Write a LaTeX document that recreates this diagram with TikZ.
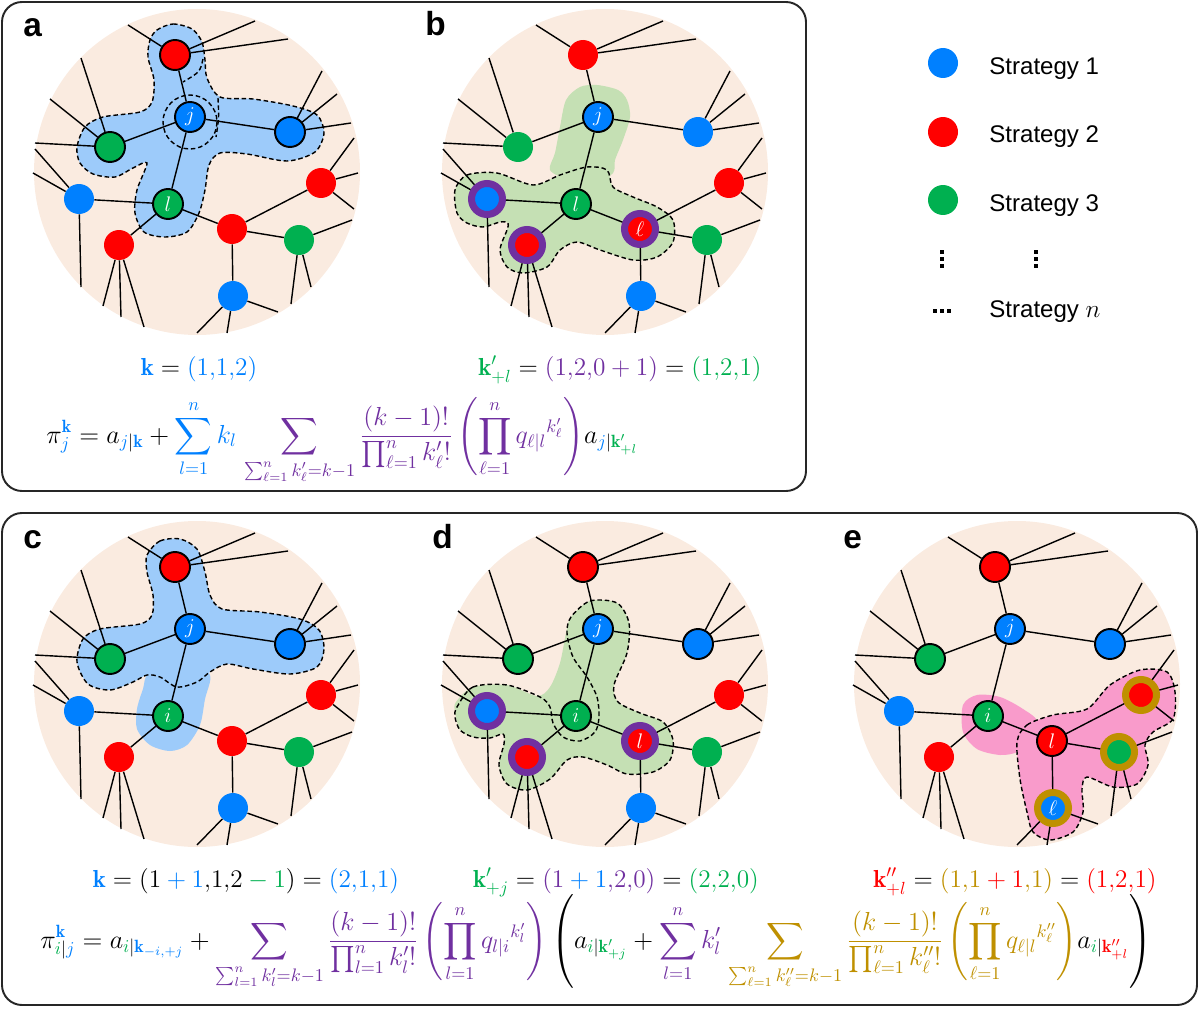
\documentclass[tikz,border=0pt]{standalone}
\usepackage{amsmath}
\usepackage{fontspec}
\newfontfamily\sansfont{Liberation Sans}
\definecolor{nblue}{HTML}{0080FF}
\definecolor{nred}{HTML}{FF0000}
\definecolor{ngreen}{HTML}{00B050}
\definecolor{npurple}{HTML}{7030A0}
\definecolor{ngold}{HTML}{BF9000}
\definecolor{cpeach}{HTML}{FAEBE0}
\definecolor{regblue}{HTML}{9DCBFA}
\definecolor{reggreen}{HTML}{C5E0B4}
\definecolor{regpink}{HTML}{F99BCB}
\tikzset{
  dot/.style={circle, inner sep=0pt, minimum size=0.6cm},
  bord/.style={draw=black, line width=1.1pt},
  ring/.style={draw=#1, line width=0.14cm, minimum size=0.62cm},
  lbl/.style={text=white, font=\fontsize{13}{13}\selectfont, inner sep=0pt},
  edge/.style={line width=0.8pt},
  dashline/.style={line width=0.8pt, dash pattern=on 2.6pt off 1.6pt},
  eq/.style={inner sep=0pt, font=\fontsize{14}{17}\selectfont},
  bigeq/.style={eq, scale=1.03, transform shape},
  letter/.style={inner sep=0pt, anchor=base west, font=\sansfont\bfseries\fontsize{19}{19}\selectfont},
  lgtext/.style={inner sep=0pt, anchor=base west, font=\sansfont\fontsize{13.7}{16}\selectfont},
  box/.style={draw=black!85, line width=1.1pt, rounded corners=0.4cm},
  % node looks, set again in each panel
  jst/.style={bord, label={[lbl]center:$j$}},
  rtst/.style={bord}, glst/.style={bord}, brst/.style={bord},
  lst/.style={bord, label={[lbl]center:$i$}},
  blst/.style={}, rblst/.style={}, rmst/.style={},
  rrst/.style={}, grst/.style={}, bbst/.style={}
}
% one network, #1 = name prefix
\newcommand\drawnet[1]{%
  \node[dot, fill=nblue, jst] (#1-j) at (190,117) {};
  \node[dot, fill=nred, rtst] (#1-rt) at (175,55) {};
  \node[dot, fill=nblue, brst] (#1-br) at (290,132) {};
  \node[dot, fill=ngreen, glst] (#1-gl) at (110,147) {};
  \node[dot, fill=ngreen, lst] (#1-l) at (168,204) {};
  \node[dot, fill=nblue, blst] (#1-bl) at (79,199) {};
  \node[dot, fill=nred, rblst] (#1-rbl) at (119,245) {};
  \node[dot, fill=nred, rmst] (#1-rm) at (232,229) {};
  \node[dot, fill=nred, rrst] (#1-rr) at (321,183) {};
  \node[dot, fill=ngreen, grst] (#1-gr) at (299,240) {};
  \node[dot, fill=nblue, bbst] (#1-bb) at (233,296) {};
  \foreach \u/\v in {rt/j, j/gl, j/br, j/l, l/bl, l/rbl, l/rm, rm/rr, rm/gr, rm/bb}
    \draw[edge] (#1-\u) -- (#1-\v);
  \foreach \u/\x/\y [count=\c] in {rt/128/25, rt/255/21, rt/288/39, gl/81/58, gl/50/99,
      gl/35/143, bl/35/149, bl/33/173, bl/81/287, rbl/103/306, rbl/121/317, rbl/144/327,
      bb/197/333, bb/227/333, bb/278/312, gr/291/304, gr/311/287, gr/352/220,
      br/322/71, br/337/94, br/351/123, rr/354/138, rr/358/173, rr/354/209}{
    \coordinate (#1-x\c) at (\x,\y);
    \draw[edge] (#1-\u) -- (#1-x\c);
  }%
}
\begin{document}
\begin{tikzpicture}[x=0.02cm, y=-0.02cm]
\useasboundingbox (0,0) rectangle (1200,1010);
\draw[box] (2,2) rectangle (806,491);
\draw[box] (2,513) rectangle (1197,1005);

% panel a
\begin{scope}[lst/.style={bord, label={[lbl]center:$l$}}]
  \fill[cpeach] (197,172) circle (163);
  \path[fill=regblue, draw, dashline] plot[smooth cycle] coordinates {(157,30) (173,24) (192,29)
    (202,42) (205,60) (207,78) (220,97) (253,99) (293,106) (317,115) (324,133) (315,152)
    (287,161) (247,154) (220,153) (209,165) (205,190) (199,213) (187,232) (165,237) (144,232)
    (135,213) (137,190) (147,163) (133,168) (115,177) (93,174) (80,163) (77,147) (85,127)
    (103,117) (140,112) (152,102) (154,80) (148,57) (150,40)};
  \draw[dashline] (190,122) circle (27);
  \draw[dashline] (203,59) .. controls (200,72) .. (183,82);
  \draw[dashline] (218,98) .. controls (219,118) .. (216,137);
  \drawnet{a}
  \node[letter] (la) at (23,37) {a};
\end{scope}

% panel b
\begin{scope}[shift={(408,0)}, rtst/.style={}, glst/.style={}, brst/.style={},
    lst/.style={bord, label={[lbl]center:$l$}},
    blst/.style={ring=npurple}, rblst/.style={ring=npurple},
    rmst/.style={ring=npurple, label={[lbl]center:$\ell$}}]
  \fill[cpeach] (197,172) circle (163);
  \fill[reggreen] plot[smooth cycle] coordinates {(189,85) (210,90) (219,100) (222,117)
    (215,140) (207,160) (205,173) (185,185) (160,180) (142,170) (147,153) (152,127)
    (158,100) (172,87)};
  \path[fill=reggreen, draw, dashline] plot[smooth cycle] coordinates {(47,190) (59,175)
    (89,173) (125,185) (152,175) (179,167) (199,170) (205,187) (225,197) (249,207)
    (265,220) (265,242) (249,257) (225,260) (192,250) (169,242) (152,250) (139,267)
    (115,273) (99,267) (92,250) (99,230) (100,223) (92,222) (75,227) (59,223) (49,213)};
  \drawnet{b}
  \node[letter] (lb) at (17,36) {b};
\end{scope}

% panel c
\begin{scope}[shift={(0,512)}]
  \fill[cpeach] (197,172) circle (163);
  \fill[regblue] plot[smooth cycle] coordinates {(150,160) (143,177) (137,197) (137,217)
    (150,233) (170,239) (187,233) (200,213) (205,187) (210,163) (190,150)};
  \path[fill=regblue, draw, dashline] plot[smooth cycle] coordinates {(147,43) (160,29)
    (180,27) (197,37) (205,60) (210,83) (222,97) (260,100) (300,107) (319,118) (324,137)
    (317,155) (290,162) (253,157) (227,152) (210,160) (197,170) (177,175) (160,165)
    (147,163) (133,170) (110,178) (88,172) (77,150) (83,127) (100,117) (140,112)
    (152,103) (153,83) (147,60)};
  \drawnet{c}
  \node[letter] (lc) at (23,36) {c};
\end{scope}

% panel d
\begin{scope}[shift={(408,512)}, blst/.style={ring=npurple}, rblst/.style={ring=npurple},
    rmst/.style={ring=npurple, label={[lbl]center:$l$}}]
  \fill[cpeach] (197,172) circle (163);
  \fill[reggreen] plot[smooth cycle] coordinates {(163,105) (182,89) (209,91) (221,111)
    (219,141) (206,173) (210,190) (232,201) (255,210) (265,228) (262,248) (245,260)
    (219,262) (199,253) (175,245) (159,248) (142,267) (119,278) (99,272) (91,253) (96,232)
    (95,222) (82,226) (65,225) (52,218) (47,200) (48,190) (65,175) (99,173) (129,184)
    (142,175) (152,151) (158,121)};
  \draw[dashline] plot[smooth cycle] coordinates {(49,195) (65,175) (99,173) (132,185)
    (142,195) (145,211) (155,225) (172,229) (187,220) (191,205) (189,185) (179,165)
    (165,145) (159,121) (163,105) (182,89) (209,91) (221,111) (219,141) (206,173)
    (210,190) (232,201) (255,210) (265,228) (262,248) (245,260) (219,262) (199,253)
    (175,245) (159,248) (142,267) (119,278) (99,272) (91,253) (96,232) (95,222) (82,226)
    (65,225) (52,218) (47,205)};
  \drawnet{d}
  \node[letter] (ld) at (24,36) {d};
\end{scope}

% panel e
\begin{scope}[shift={(820,512)}, rmst/.style={bord, label={[lbl]center:$l$}},
    rrst/.style={ring=ngold}, grst/.style={ring=ngold},
    bbst/.style={ring=ngold, label={[lbl]center:$\ell$}}]
  \fill[cpeach] (197,172) circle (163);
  \fill[regpink] plot[smooth cycle] coordinates {(143,193) (157,183) (180,185) (203,197)
    (217,210) (200,230) (197,240) (180,243) (157,237) (143,220)};
  \path[fill=regpink, draw, dashline] plot[smooth cycle] coordinates {(197,230) (207,213)
    (233,203) (267,197) (290,173) (320,158) (347,160) (355,180) (353,207) (333,220)
    (325,233) (328,253) (317,272) (293,275) (267,265) (262,277) (263,300) (253,320)
    (230,328) (213,320) (207,300) (200,267)};
  \drawnet{e}
  \node[letter] (le) at (23,36) {e};
\end{scope}

% legend
\node[dot, fill=nblue] (lg1) at (943,63) {};
\node[dot, fill=nred] (lg2) at (943,132) {};
\node[dot, fill=ngreen] (lg3) at (943,200) {};
\node[lgtext] (lt1) at (989,75) {Strategy 1};
\node[lgtext] (lt2) at (989,143) {Strategy 2};
\node[lgtext] (lt3) at (989,212) {Strategy 3};
\node[lgtext] (ltn) at (989,317) {Strategy $n$};
\foreach \x in {942,1036}
  \foreach \y in {252,259,266}
    \fill (\x-2,\y-2) rectangle (\x+2,\y+2);
\foreach \x in {935,942,949}
  \fill (\x-2,309) rectangle (\x+2,313);

% top formulas
\node[eq, anchor=base] (ka) at (199,375) {${\color{nblue}\mathbf{k}} = {\color{nblue}(1{,}1{,}2)}$};
\node[eq, anchor=base] (kb) at (620,375) {${\color{ngreen}\mathbf{k}'_{+l}} = {\color{npurple}(1{,}2{,}0+1)} = {\color{ngreen}(1{,}2{,}1)}$};
\node[bigeq, anchor=base west] (fa) at (46,443) {$\displaystyle
  \pi^{{\color{nblue}\mathbf{k}}}_{{\color{nblue}j}} = a_{{\color{nblue}j}|{\color{nblue}\mathbf{k}}}
  + {\color{nblue}\sum_{l=1}^{n} k_l}\;
  {\color{npurple}\sum_{\sum_{\ell=1}^{n} k'_\ell=k-1}\frac{(k-1)!}{\prod_{\ell=1}^{n} k'_\ell!}
  \left(\prod_{\ell=1}^{n} {q_{\ell|l}}^{k'_\ell}\right)}
  a_{{\color{nblue}j}|{\color{ngreen}\mathbf{k}'_{+l}}}$};

% bottom formulas
\node[eq, anchor=base] (kc) at (246,887) {${\color{nblue}\mathbf{k}} = (1\mathbin{\color{nblue}+}{\color{nblue}1}{,}1{,}2\mathbin{\color{ngreen}-}{\color{ngreen}1}) = {\color{nblue}(2{,}1{,}1)}$};
\node[eq, anchor=base] (kd) at (616,887) {${\color{ngreen}\mathbf{k}'_{+j}} = {\color{npurple}(1\mathbin{\color{nblue}+}{\color{nblue}1}{,}2{,}0)} = {\color{ngreen}(2{,}2{,}0)}$};
\node[eq, anchor=base] (ke) at (1015,887) {${\color{nred}\mathbf{k}''_{+l}} = {\color{ngold}(1{,}1\mathbin{\color{nred}+}{\color{nred}1}{,}1)} = {\color{nred}(1{,}2{,}1)}$};
\node[bigeq, anchor=base west] (fc) at (40,948) {$\displaystyle
  \pi^{{\color{nblue}\mathbf{k}}}_{{\color{ngreen}i}|{\color{nblue}j}}
  = a_{{\color{ngreen}i}|{\color{nblue}\mathbf{k}_{-i,+j}}}
  + {\color{npurple}\sum_{\sum_{l=1}^{n} k'_l=k-1}\frac{(k-1)!}{\prod_{l=1}^{n} k'_l!}
  \left(\prod_{l=1}^{n} {q_{l|i}}^{k'_l}\right)}
  \left(a_{{\color{ngreen}i}|{\color{ngreen}\mathbf{k}'_{+j}}}
  + {\color{npurple}\sum_{l=1}^{n} k'_l}\;
  {\color{ngold}\sum_{\sum_{\ell=1}^{n} k''_\ell=k-1}\frac{(k-1)!}{\prod_{\ell=1}^{n} k''_\ell!}
  \left(\prod_{\ell=1}^{n} {q_{\ell|l}}^{k''_\ell}\right)}
  a_{{\color{ngreen}i}|{\color{nred}\mathbf{k}''_{+l}}}\right)$};
\end{tikzpicture}
\end{document}
